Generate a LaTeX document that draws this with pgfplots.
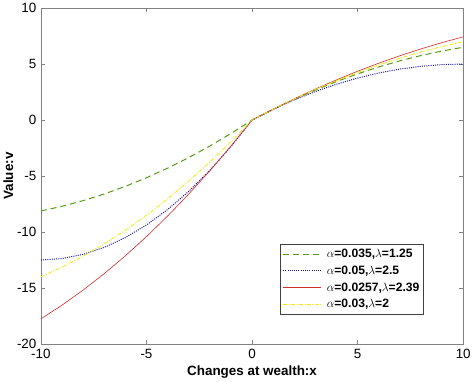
\documentclass[border=0pt]{standalone}
\usepackage{pgfplots}
\pgfplotsset{compat=1.18}
\usepackage{fontspec}
\setmainfont{Liberation Sans}
\definecolor{cgreen}{RGB}{85,155,25}
\definecolor{cblue}{RGB}{20,20,150}
\definecolor{cred}{RGB}{215,40,40}
\definecolor{cyellow}{RGB}{240,235,0}
\definecolor{caxis}{RGB}{130,130,130}
\begin{document}
\begin{tikzpicture}
\begin{axis}[
  scale only axis,
  width=425pt, height=338pt,
  xmin=-10, xmax=10, ymin=-20, ymax=10,
  xtick={-10,-5,0,5,10}, ytick={-20,-15,-10,-5,0,5,10},
  tick align=inside, tick pos=both,
  major tick length=4pt,
  axis line style={caxis, line width=0.8pt},
  tick style={caxis, line width=0.6pt},
  /pgf/number format/assume math mode=true,
  tick label style={font=\fontsize{13.5}{15}\selectfont},
  xticklabel style={yshift=-2pt},
  yticklabel style={xshift=-1pt},
  xlabel={\bfseries Changes at wealth:x},
  ylabel={\bfseries Value:v},
  label style={font=\fontsize{13.5}{15}\selectfont},
  xlabel style={yshift=0pt},
  ylabel style={yshift=-3pt},
  legend style={at={(0.905,0.089)}, anchor=south east, draw=black!75, line width=0.5pt,
    font=\fontsize{12.2}{15}\selectfont\bfseries, row sep=0pt,
    inner xsep=2pt, inner ysep=1pt,
    /tikz/every odd column/.style={column sep=4pt},
    nodes={inner sep=1.5pt, text height=10.5pt, text depth=3.4pt}},
  legend cell align=left,
]
\addplot[cgreen, line width=1pt, dash pattern=on 6pt off 4pt,
  legend image code/.code={\draw[cgreen, line width=1pt, dash pattern=on 6pt off 4pt] (0pt,0pt) -- (38pt,0pt);}] coordinates {
(-10,-8.125)(-9,-7.70625)(-8,-7.2)(-7,-6.60625)(-6,-5.925)(-5,-5.15625)(-4,-4.3)(-3,-3.35625)(-2,-2.325)(-1,-1.20625)
(0,0)(1,0.965)(2,1.86)(3,2.685)(4,3.44)(5,4.125)(6,4.74)(7,5.285)(8,5.76)(9,6.165)(10,6.5)};
\addlegendentry{$\alpha$=0.035,$\lambda$=1.25}
\addplot[cblue, line width=1pt, dash pattern=on 1pt off 1.2pt,
  legend image code/.code={\draw[cblue, line width=1pt, dash pattern=on 1pt off 1.2pt] (0pt,0pt) -- (38pt,0pt);}] coordinates {
(-10,-12.5)(-9,-12.375)(-8,-12)(-7,-11.375)(-6,-10.5)(-5,-9.375)(-4,-8)(-3,-6.375)(-2,-4.5)(-1,-2.375)
(0,0)(1,0.95)(2,1.8)(3,2.55)(4,3.2)(5,3.75)(6,4.2)(7,4.55)(8,4.8)(9,4.95)(10,5)};
\addlegendentry{$\alpha$=0.05,$\lambda$=2.5}
\addplot[cred, solid, line width=0.6pt,
  legend image code/.code={\draw[cred, line width=0.8pt] (0pt,0pt) -- (38pt,0pt);}] coordinates {
(-10,-17.7577)(-9,-16.5347)(-8,-15.1889)(-7,-13.7203)(-6,-12.1288)(-5,-10.4144)(-4,-8.5772)(-3,-6.6172)(-2,-4.5343)(-1,-2.3286)
(0,0)(1,0.9743)(2,1.8972)(3,2.7687)(4,3.5888)(5,4.3575)(6,5.0748)(7,5.7407)(8,6.3552)(9,6.9183)(10,7.43)};
\addlegendentry{$\alpha$=0.0257,$\lambda$=2.39}
\addplot[cyellow, line width=0.8pt, dash pattern=on 4pt off 1.5pt on 1pt off 1.5pt,
  legend image code/.code={\draw[cyellow, line width=0.8pt, dash pattern=on 4pt off 1.5pt on 1pt off 1.5pt] (0pt,0pt) -- (38pt,0pt);}] coordinates {
(-10,-14)(-9,-13.14)(-8,-12.16)(-7,-11.06)(-6,-9.84)(-5,-8.5)(-4,-7.04)(-3,-5.46)(-2,-3.76)(-1,-1.94)
(0,0)(1,0.97)(2,1.88)(3,2.73)(4,3.52)(5,4.25)(6,4.92)(7,5.53)(8,6.08)(9,6.57)(10,7)};
\addlegendentry{$\alpha$=0.03,$\lambda$=2}
\end{axis}
\end{tikzpicture}
\end{document}
